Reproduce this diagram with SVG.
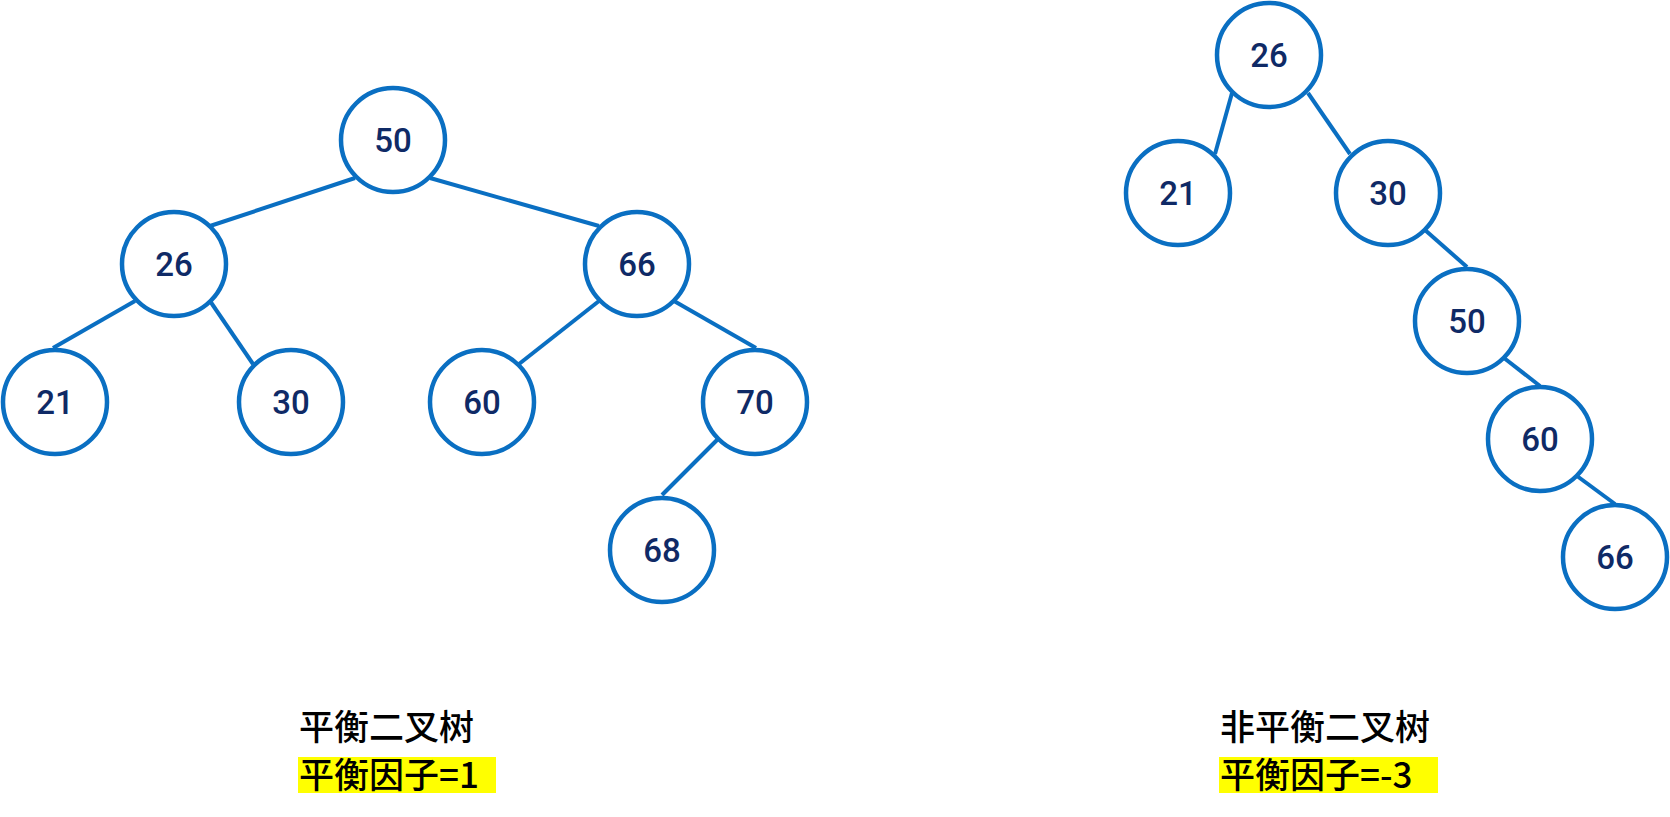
<svg xmlns="http://www.w3.org/2000/svg" width="1670" height="817" viewBox="0 0 1670 817">
<style>
.e line{stroke:#0a6fc2;stroke-width:4}
circle{fill:#fff;stroke:#0a6fc2;stroke-width:4.5}
.n{font-family:Roboto,"Liberation Sans",Arial,sans-serif;font-weight:500;font-size:33px;fill:#0f2a66;text-anchor:middle;dominant-baseline:central}
.c{font-family:"Noto Sans CJK SC","Liberation Sans",sans-serif;font-size:35px;fill:#000;font-weight:500}
</style>
<rect width="1670" height="817" fill="#fff"/>
<g class="e">
<line x1="355" y1="178" x2="210" y2="226"/><line x1="430" y1="178" x2="599" y2="226"/>
<line x1="135" y1="301" x2="53" y2="348"/><line x1="210" y1="301" x2="253" y2="364"/>
<line x1="599" y1="301" x2="519" y2="364"/><line x1="674" y1="301" x2="756" y2="348"/>
<line x1="718" y1="439" x2="662" y2="495"/>
<line x1="1232" y1="93" x2="1215" y2="154"/><line x1="1308" y1="93" x2="1350" y2="154"/>
<line x1="1425" y1="230" x2="1467" y2="267"/><line x1="1504" y1="358" x2="1540" y2="386"/>
<line x1="1577" y1="476" x2="1615" y2="504"/>
</g>
<g id="L50"><circle cx="393" cy="140" r="52"/><text class="n" x="393" y="140">50</text></g>
<g id="L26"><circle cx="174" cy="264" r="52"/><text class="n" x="174" y="264">26</text></g>
<g id="L66"><circle cx="637" cy="264" r="52"/><text class="n" x="637" y="264">66</text></g>
<g id="L21"><circle cx="55" cy="402" r="52"/><text class="n" x="55" y="402">21</text></g>
<g id="L30"><circle cx="291" cy="402" r="52"/><text class="n" x="291" y="402">30</text></g>
<g id="L60"><circle cx="482" cy="402" r="52"/><text class="n" x="482" y="402">60</text></g>
<g id="L70"><circle cx="755" cy="402" r="52"/><text class="n" x="755" y="402">70</text></g>
<g id="L68"><circle cx="662" cy="550" r="52"/><text class="n" x="662" y="550">68</text></g>
<g id="R26"><circle cx="1269" cy="55" r="52"/><text class="n" x="1269" y="55">26</text></g>
<g id="R21"><circle cx="1178" cy="193" r="52"/><text class="n" x="1178" y="193">21</text></g>
<g id="R30"><circle cx="1388" cy="193" r="52"/><text class="n" x="1388" y="193">30</text></g>
<g id="R50"><circle cx="1467" cy="321" r="52"/><text class="n" x="1467" y="321">50</text></g>
<g id="R60"><circle cx="1540" cy="439" r="52"/><text class="n" x="1540" y="439">60</text></g>
<g id="R66"><circle cx="1615" cy="557" r="52"/><text class="n" x="1615" y="557">66</text></g>
<g id="labelL">
<text class="c" x="299" y="740">平衡二叉树</text>
<rect x="298" y="757" width="198" height="36" fill="#ffff00"/>
<text class="c" x="299" y="788">平衡因子=1</text>
</g>
<g id="labelR">
<text class="c" x="1220" y="740">非平衡二叉树</text>
<rect x="1219" y="757" width="219" height="36" fill="#ffff00"/>
<text class="c" x="1220" y="788">平衡因子=-3</text>
</g>
</svg>
